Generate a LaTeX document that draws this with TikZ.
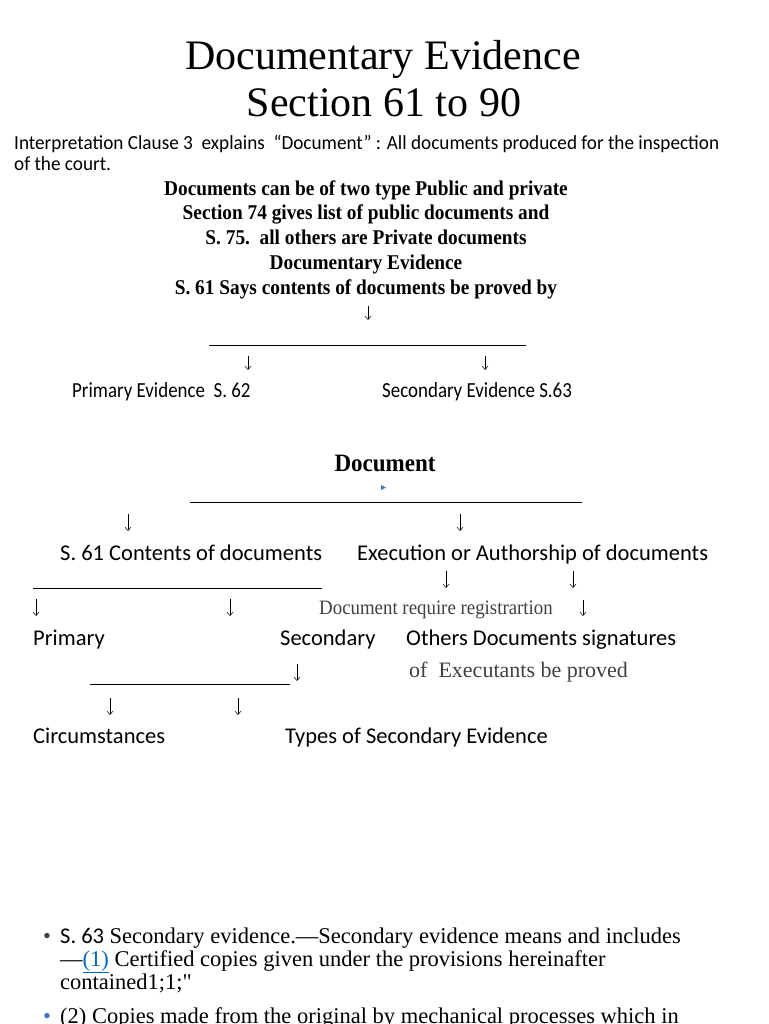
\documentclass[tikz,border=0pt]{standalone}
\usepackage{fontspec}
\setmainfont{Liberation Serif}
\newfontfamily\calfont{Carlito}
\newfontfamily\narrowcal[FakeStretch=0.88]{Carlito}
\newfontfamily\introcal[FakeStretch=0.96]{Carlito}
\newfontfamily\narrowserif[FakeStretch=0.92]{Liberation Serif}
\usetikzlibrary{arrows.meta}
\definecolor{linkblue}{HTML}{0563C1}
\definecolor{bulletblue}{HTML}{4472C4}
\definecolor{greytext}{HTML}{404040}

\tikzset{
  txt/.style={inner sep=0pt, anchor=base west},
  ctxt/.style={inner sep=0pt, anchor=base},
  boldline/.style={ctxt, font=\narrowserif\bfseries\fontsize{21}{24}\selectfont},
  calline/.style={txt, font=\calfont\fontsize{22.5}{27}\selectfont},
  bulline/.style={txt, font=\fontsize{22.5}{23}\selectfont},
  darrow/.style={-{Straight Barb[length=3.5pt,width=6pt]}, line width=0.5pt},
  rule/.style={line width=0.8pt}
}

\begin{document}
\begin{tikzpicture}[x=1pt, y=-1pt]
  \useasboundingbox (0,0) rectangle (768,1024);
  \clip (0,0) rectangle (768,1024);
  % title
  \node[ctxt, font=\fontsize{42}{47}\selectfont] (title1) at (383,70) {Documentary Evidence};
  \node[ctxt, font=\fontsize{42}{47}\selectfont] (title2) at (384,117) {Section 61 to 90};
  % interpretation clause
  \node[txt, font=\introcal\fontsize{20}{21}\selectfont] (interp1) at (14,150) {Interpretation Clause 3\ \ explains\ \ “Document” : All documents produced for the inspection};
  \node[txt, font=\introcal\fontsize{20}{21}\selectfont] (interp2) at (14,171) {of the court.};
  % bold centred lines
  \node[boldline] (kinds) at (366,196) {Documents can be of two type Public and private};
  \node[boldline] (sec74) at (366,220) {Section 74 gives list of public documents and};
  \node[boldline] (sec75) at (366,244) {S. 75.\ \ all others are Private documents};
  \node[boldline] (docev) at (366,269) {Documentary Evidence};
  \node[boldline] (sec61) at (366,294) {S. 61 Says contents of documents be proved by};
  % first split
  \node[txt, font=\narrowcal\fontsize{21.5}{24}\selectfont] (primev) at (72,397) {Primary Evidence\ \ S. 62};
  \node[txt, font=\narrowcal\fontsize{21.5}{24}\selectfont] (secev) at (382,397) {Secondary Evidence S.63};
  % document tree
  \node[ctxt, font=\narrowserif\bfseries\fontsize{25}{28}\selectfont] (doc) at (385,471) {Document};
  \fill[bulletblue] (381,485) -- (386,487.5) -- (381,490) -- cycle;
  \node[calline] (contents) at (60,560) {S. 61 Contents of documents};
  \node[calline] (exec) at (357,560) {Execution or Authorship of documents};
  \node[txt, font=\narrowserif\fontsize{20.5}{22}\selectfont, text=greytext] (regist) at (319,614) {Document require registrartion};
  \node[calline] (prim) at (33,645) {Primary};
  \node[calline] (second) at (280,645) {Secondary};
  \node[calline] (others) at (406,645) {Others Documents signatures};
  \node[txt, font=\fontsize{22}{26}\selectfont, text=greytext] (execut) at (409,677) {of\ \ Executants be proved};
  \node[calline] (circ) at (33,743) {Circumstances};
  \node[calline] (types) at (285,743) {Types of Secondary Evidence};
  % rules
  \coordinate (r1a) at (209,345); \coordinate (r1b) at (526,345);
  \coordinate (r2a) at (190,502); \coordinate (r2b) at (582,502);
  \coordinate (r3a) at (33,588);  \coordinate (r3b) at (322,588);
  \coordinate (r4a) at (90,684);  \coordinate (r4b) at (290,684);
  \foreach \r in {1,...,4}
    \draw[rule] (r\r a) -- (r\r b);
  % down arrows
  \foreach \i/\x/\y/\l in {1/368/306/14, 2/248/356/14, 3/485/356/14,
                          4/128/514/17, 5/460/514/17, 6/446/571/17, 7/573/571/17,
                          8/36/599/17, 9/230/599/17, 10/583/600/16,
                          11/297/664/17, 12/110/698/17, 13/238/698/17} {
    \coordinate (a\i) at (\x,\y);
    \coordinate (b\i) at (\x,\y+\l);
    \draw[darrow] (a\i) -- (b\i);
  }
  % bullets
  \node[bulline, text=black!75] (blt1) at (43,943) {\textbullet};
  \node[bulline] (s63a) at (60,943) {{\calfont S. 63} Secondary evidence.—Secondary evidence means and includes};
  \node[bulline] (s63b) at (60,966) {—\textcolor{linkblue}{\underline{(1)}} Certified copies given under the provisions hereinafter};
  \node[bulline] (s63c) at (60,989) {contained1;1;\textquotedbl};
  \node[bulline, text=bulletblue] (blt2) at (43,1023) {\textbullet};
  \node[bulline] (s63d) at (60,1023) {(2) Copies made from the original by mechanical processes which in};
\end{tikzpicture}
\end{document}
